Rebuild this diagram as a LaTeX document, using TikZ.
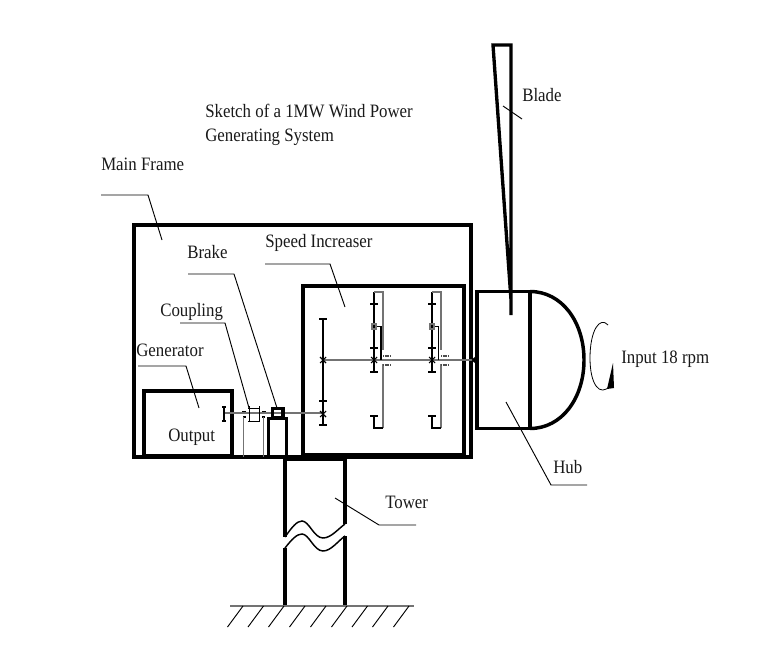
\documentclass[tikz,border=0pt]{standalone}
\usepackage{fontspec}
\setmainfont[FakeStretch=0.89]{Liberation Serif}
\tikzset{
  thick line/.style={line width=2.6pt,draw=black},
  mid line/.style={line width=2.5pt,draw=black},
  wave line/.style={line width=1.1pt,draw=black},
  thin line/.style={line width=0.7pt,draw=black},
  gear line/.style={line width=0.8pt,draw=black},
  gray line/.style={line width=1pt,draw=black!55},
  label/.style={font=\fontsize{14.2pt}{16pt}\selectfont,inner sep=0pt,anchor=base west,text=black!90},
  tick/.pic={\draw[gear line] (-4,0)--(4,0);},
  xmark/.pic={\draw[line width=0.8pt] (-3,-3)--(3,3) (-3,3)--(3,-3);},
}
\begin{document}
\begin{tikzpicture}[x=0.75pt,y=-0.75pt,line join=miter]
\useasboundingbox (0,0) rectangle (759,670);
% frames
\draw[thick line] (134,225) rectangle (471,457);
\draw[thick line] (303,286) rectangle (464,455);
\draw[thick line] (144,391) rectangle (232,456);
% hub
\draw[thick line] (531,291.5) -- (477,291.5) -- (477,428.5) -- (531,428.5);
\draw[mid line] (530,291.5) -- (530,428.5);
\draw[thick line] (530,291.5) .. controls (562,291.5) and (584,322) .. (584,360) .. controls (584,398) and (562,428.5) .. (530,428.5);
% blade
\draw[mid line] (511,315) -- (511,45) -- (493,45) -- (511,300);
% rotation arrow
\draw[line width=0.6pt] (608,325) .. controls (600,316) and (590,330) .. (590,358) .. controls (590,385) and (600,397) .. (610,386);
\fill (613,363) -- (607,389) -- (614,388) -- cycle;
% tower
\draw[mid line] (285,459) -- (285,537);
\draw[mid line] (345,459) -- (345,524);
\draw[mid line] (285,548) -- (285,606);
\draw[mid line] (345,536) -- (345,606);
\draw[wave line] (285,537) .. controls (292,527) and (297,521) .. (302,521) .. controls (309,521) and (314,538) .. (323,538) .. controls (331,538) and (338,529) .. (345,524);
\draw[wave line] (285,548) .. controls (292,539) and (297,534) .. (302,534) .. controls (309,534) and (314,551) .. (323,551) .. controls (331,551) and (338,541) .. (345,536);
\fill (285,457) rectangle (345,461);
% ground
\draw[gray line] (230,606) -- (414,606);
\foreach \t in {243,263.5,284,305,326,347,367.5,388,409}
  \draw[line width=0.7pt] (\t,606) -- ({\t-15.5},627);
% shafts
\draw[gray line] (224,413) -- (323,413);
\draw[gray line] (323,360) -- (473,360);
% output end
\draw[gear line] (224,407) -- (224,421) (222,407) -- (226,407) (222,421) -- (226,421);
% coupling
\draw[line width=0.7pt] (249,406) -- (249,422) (259,406) -- (259,422) (248,408.5) -- (260,408.5) (248,421) -- (260,421);
\draw[gear line] (242,411.5) -- (246,411.5) (243,417) -- (246,417) (262,411.5) -- (266,411.5) (262,417) -- (265,417);
\draw[gray line] (243.5,417) -- (243.5,457) (263.5,417) -- (263.5,457);
% brake
\draw[mid line] (272.5,408.5) rectangle (283,418);
\draw[thick line] (268.5,418.5) rectangle (286.5,457);
% gear 1
\draw[gear line] (323,319) -- (323,425);
\foreach \y in {319,401,425} \pic at (323,\y) {tick};
\pic at (323,360) {xmark};
\pic at (323,414) {xmark};
% gear pairs
\foreach \a/\b/\c in {374/383/381,432/441/438.5}{
  \draw[gear line] (\a,292) -- (\a,372);
  \foreach \y in {304,348,372} \pic at (\a,\y) {tick};
  \pic at (\a,360) {xmark};
  \draw[line width=1pt,draw=black!55] (\a,292) -- (\b,292) -- (\b,350) (\b,364) -- (\b,428);
  \draw[gear line] (\b,428) -- (\a,428) -- (\a,416);
  \pic at (\a,416) {tick};
  \draw[gear line] (\a,326.5) -- (\c,326.5) -- (\c,360);
  \draw[line width=0.8pt,draw=black!55] (\a-2,324) rectangle (\a+2,329);
  \draw[line width=1.5pt,draw=black!70,dash pattern=on 0.8pt off 0.5pt] (\b,356) -- (\b+8,356) (\b,364.5) -- (\b+8,364.5);
}
% hub nose
\fill (471.5,360) -- (477,355) -- (477,365) -- cycle;
% leaders
\draw[thin line] (101,195) -- (148,195) -- (162,240);
\draw[thin line] (188,274) -- (234,274) -- (277,408);
\draw[thin line] (180,323) -- (225,323) -- (249,408);
\draw[thin line] (138,366) -- (186,366) -- (199,408);
\draw[thin line] (265,264) -- (330,264) -- (345,307);
\draw[thin line] (503,106) -- (522,119);
\draw[thin line] (506,402) -- (551,485) -- (587,485);
\draw[thin line] (335,498) -- (379,525) -- (416,525);
% labels
\node[label] (t1) at (205,118) {Sketch of a 1MW Wind Power};
\node[label] (t2) at (205,142) {Generating System};
\node[label] (mf) at (101,171) {Main Frame};
\node[label] (br) at (187,258) {Brake};
\node[label] (si) at (265,247) {Speed Increaser};
\node[label] (cp) at (160,316) {Coupling};
\node[label] (gn) at (136,356) {Generator};
\node[label] (ou) at (168,441) {Output};
\node[label] (bl) at (522,102) {Blade};
\node[label] (in) at (621,363) {Input 18 rpm};
\node[label] (hb) at (553,473) {Hub};
\node[label] (tw) at (385,508) {Tower};
\end{tikzpicture}
\end{document}
